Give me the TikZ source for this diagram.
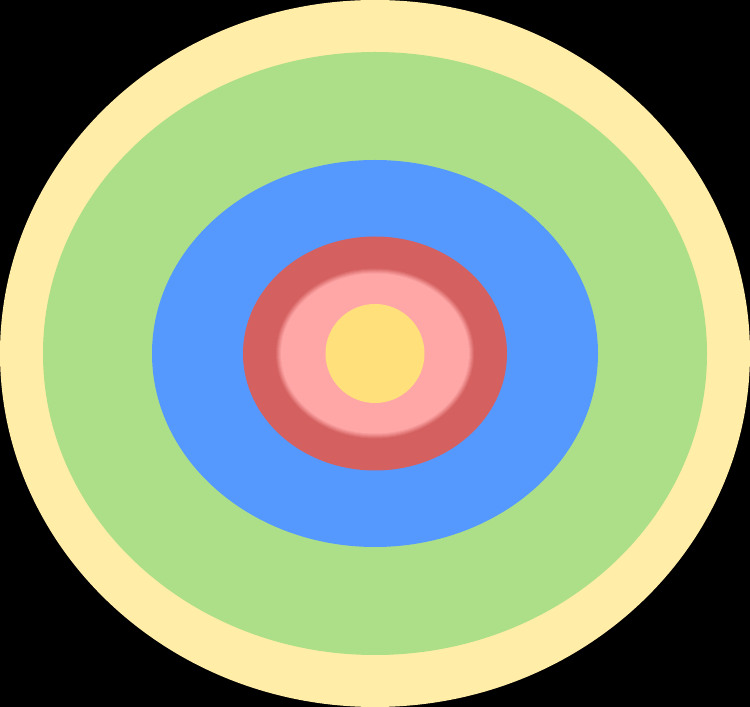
\documentclass[tikz,border=0pt]{standalone}
\usepackage{tikz}

\definecolor{ringcream}{HTML}{FFEDA8}
\definecolor{ringgreen}{HTML}{ADDF88}
\definecolor{ringblue}{HTML}{5599FF}
\definecolor{ringred}{HTML}{D46060}
\definecolor{ringpink}{HTML}{FFA7A7}
\definecolor{ringsun}{HTML}{FFE07A}

\begin{document}
\begin{tikzpicture}[x=1pt,y=1pt]
\fill [black] (0,0) rectangle (750,707);
\useasboundingbox (0,0) rectangle (750,707);
\fill [ringcream] (375,353.5) ellipse (375 and 353.5);
\fill [ringgreen] (375,353.5) ellipse (332 and 301.5);
\fill [ringblue] (375,353.5) ellipse (223 and 193.5);
\fill [ringred] (375,353.5) ellipse (132 and 117);
% soft edge from red to pink
\foreach \i/\p in {0/0,1/17,2/33,3/50,4/67,5/83,6/100}
  \fill [ringpink!\p!ringred] (375,353.5) ellipse ({100-\i} and {86-\i});
\fill [ringsun] (375,353.5) circle (49.5);
\end{tikzpicture}
\end{document}
